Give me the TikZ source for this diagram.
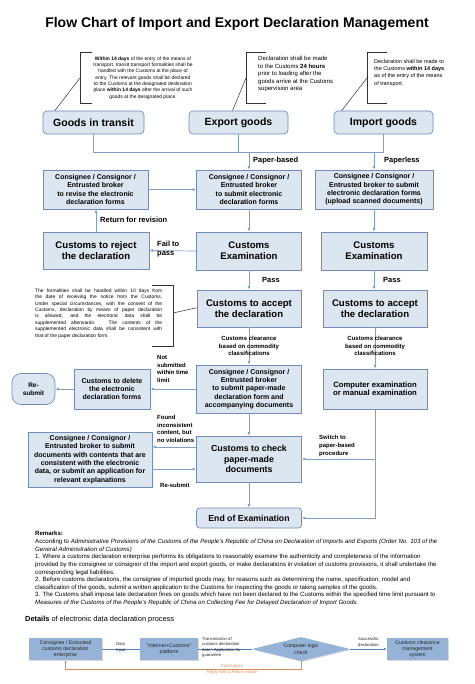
\documentclass[tikz,border=0pt]{standalone}
\usepackage{fontspec}
\setmainfont{Liberation Sans}
\usetikzlibrary{arrows.meta,shapes.geometric,shadows,calc}
\newcommand\fsz[2]{\fontsize{#1}{#2}\selectfont}
\definecolor{bfill}{RGB}{220,230,241}
\definecolor{bdraw}{RGB}{112,142,182}
\definecolor{aline}{RGB}{125,160,205}
\definecolor{dfill}{RGB}{149,179,215}
\definecolor{dline}{RGB}{79,129,189}
\definecolor{oline}{RGB}{226,140,80}
\begin{document}
\begin{tikzpicture}[x=1pt,y=-1pt,
  box/.style={draw=bdraw,fill=bfill,line width=0.7pt,align=center,inner sep=1pt},
  goods/.style={box,rounded corners=4pt,font=\fsz{10.5}{12}\bfseries,minimum height=23pt,minimum width=100pt},
  bigb/.style={box,font=\fsz{9.6}{10.7}\bfseries},
  smallb/.style={box,font=\fsz{7}{8.3}\bfseries},
  arr/.style={draw=aline,line width=0.7pt,-{Latex[length=3.5pt,width=3pt]}},
  ln/.style={draw=aline,line width=0.7pt},
  lab/.style={font=\fsz{7.5}{8.5}\bfseries,inner sep=0pt,align=left},
  slab/.style={font=\fsz{6}{7.6}\bfseries,inner sep=0pt,align=left},
  clab/.style={font=\fsz{6}{7.5}\bfseries,inner sep=0pt,align=center},
  call/.style={draw=black!80,line width=0.5pt},
  dbox/.style={fill=dfill,text=black!85,font=\fsz{5.2}{6.3},align=center,inner sep=1pt,
    drop shadow={opacity=0.3,shadow xshift=1pt,shadow yshift=-1pt}},
  dln/.style={draw=dline,line width=0.6pt},
  dlab/.style={font=\fsz{4.2}{5.6},inner sep=0pt,align=left,text=black!85}
]
\useasboundingbox (0,0) rectangle (474,684);
\fill[white] (0,0) rectangle (474,684);

% title
\node[font=\fsz{14}{16}\bfseries] (title) at (237,24) {Flow Chart of Import and Export Declaration Management};

% goods boxes
\node[goods,minimum width=101pt] (git) at (93.5,122.5) {Goods in transit};
\node[goods,minimum width=99pt] (exp) at (238.5,122.5) {Export goods};
\node[goods,minimum width=99pt] (imp) at (383.5,122.5) {Import goods};

% callouts
\node[font=\fsz{4.95}{6.3},align=center,inner sep=0pt] (c1) at (143,78) {\textbf{Within 14 days} of the entry of the means of\\transport, transit transport formalities shall be\\handled with the Customs at the place of\\entry. The relevant goods shall be declared\\to the Customs at the designated destination\\place \textbf{within 14 days} after the arrival of such\\goods at the designated place.};
\draw[call] (92,52) -- (80,52) -- (80,103) -- (92,103);
\coordinate (k1) at (80,78);
\draw[call] (k1) -- ($(git.north west)!0.12!(git.north east)$);

\node[font=\fsz{6}{7.5},align=left,inner sep=0pt,anchor=west] (c2) at (258,74.3) {Declaration shall be made\\to the Customs \textbf{24 hours}\\prior to loading after the\\goods arrive at the Customs\\supervision area};
\draw[call] (266,52) -- (246,52) -- (246,103) -- (266,103);
\coordinate (k2) at (246,78);
\draw[call] (k2) -- ($(exp.north west)!0.44!(exp.north east)$);

\node[font=\fsz{5.5}{7.4},align=left,inner sep=0pt,anchor=west] (c3) at (374,72.8) {Declaration shall be made to\\the Customs \textbf{within 14 days}\\as of the entry of the means\\of transport.};
\draw[call] (387,52) -- (367,52) -- (367,103) -- (387,103);
\coordinate (k3) at (367,78);
\draw[call] (k3) -- ($(imp.north west)!0.08!(imp.north east)$);

% horizontal connector
\coordinate (hy) at (0,152);
\draw[ln] (git.south) -- (git.south |- hy) -- (imp.south |- hy) -- (imp.south);
\draw[ln] (exp.south) -- (exp.south |- hy);

% second row
\node[smallb,minimum width=105pt,minimum height=39pt] (rev) at (95.5,189.5) {Consignee / Consignor /\\Entrusted broker\\to revise the electronic\\declaration forms};
\node[smallb,minimum width=105pt,minimum height=39pt] (expc) at (249,189.5) {Consignee / Consignor /\\Entrusted broker\\to submit electronic\\declaration forms};
\node[smallb,minimum width=118pt,minimum height=39pt] (impc) at (374,189.5) {Consignee / Consignor /\\Entrusted broker to submit\\electronic declaration forms\\(upload scanned documents)};
\draw[arr] (expc.north |- hy) -- (expc.north);
\draw[arr] (impc.north |- hy) -- (impc.north);
\node[lab,anchor=west] (lpb) at (253,161) {Paper-based};
\node[lab,anchor=west] (lpl) at (384,161) {Paperless};
\draw[arr] (rev.east) -- (expc.west);

% third row
\node[bigb,minimum width=106pt,minimum height=37pt] (rej) at (96,250.5) {Customs to reject\\the declaration};
\node[bigb,minimum width=105pt,minimum height=38pt] (expx) at (249,251) {Customs\\Examination};
\node[bigb,minimum width=106pt,minimum height=38pt] (impx) at (374,251) {Customs\\Examination};
\draw[arr] (expc.south) -- (expx.north);
\draw[arr] (impc.south) -- (impx.north);
\draw[arr] (expx.west) -- (rej.east);
\node[lab,anchor=west] (lfail) at (157,249) {Fail to\\pass};
\draw[arr] (rej.north) -- (rej.north |- rev.south);
\node[lab,anchor=west] (lret) at (100,220) {Return for revision};

% fourth row
\node[bigb,minimum width=104pt,minimum height=37pt] (expa) at (249,308.5) {Customs to accept\\the declaration};
\node[bigb,minimum width=104pt,minimum height=37pt] (impa) at (375,308.5) {Customs to accept\\the declaration};
\draw[arr] (expx.south) -- (expx.south |- expa.north);
\draw[arr] (impx.south) -- (impx.south |- impa.north);
\node[lab,anchor=west] (lp1) at (262,280) {Pass};
\node[lab,anchor=west] (lp2) at (383,280) {Pass};

% callout 4
\node[font=\fsz{4.9}{6.4},align=left,inner sep=0pt,anchor=west] (c4) at (35,313.5) {%
\makebox[127pt][s]{The formalities shall be handled within 10 days from}\\
\makebox[127pt][s]{the date of receiving the notice from the Customs.}\\
\makebox[127pt][s]{Under special circumstances, with the consent of the}\\
\makebox[127pt][s]{Customs, declaration by means of paper declaration}\\
\makebox[127pt][s]{is allowed, and the electronic data shall be}\\
\makebox[127pt][s]{supplemented afterwards. The contents of the}\\
\makebox[127pt][s]{supplemented electronic data shall be consistent with}\\
that of the paper declaration form.};
\draw[call] (152,285) -- (173,285) -- (173,346) -- (152,346);
\coordinate (k4) at (173,313);
\draw[call] (k4) -- ($(expa.north west)!0.48!(expa.south west)$);

% fifth row
\node[smallb,minimum width=105pt,minimum height=48pt] (ppc) at (249,389) {Consignee / Consignor /\\Entrusted broker\\to submit paper-made\\declaration form and\\accompanying documents};
\node[box,font=\fsz{7.7}{8.4}\bfseries,minimum width=104pt,minimum height=40pt] (comp) at (375,389) {Computer examination\\or manual examination};
\node[smallb,minimum width=76pt,minimum height=40pt] (del) at (112,389) {Customs to delete\\the electronic\\declaration forms};
\node[box,rounded corners=9pt,font=\fsz{6.5}{8}\bfseries,minimum width=43pt,minimum height=31pt] (resub) at (33.5,389) {Re-\\submit};
\draw[arr] (expa.south) -- (expa.south |- ppc.north);
\node[clab] (lcc1) at (249,346) {Customs clearance\\based on commodity\\classifications};
\draw[arr] (impa.south) -- (impa.south |- comp.north);
\node[clab] (lcc2) at (375,346) {Customs clearance\\based on commodity\\classifications};
\draw[arr] (ppc.west) -- (del.east);
\node[slab,anchor=west] (lns) at (157,369) {Not\\submitted\\within time\\limit};
\draw[arr] (del.west) -- (resub.east);

% sixth row
\node[bigb,font=\fsz{8.8}{10.2}\bfseries,minimum width=105pt,minimum height=46pt] (chk) at (249,459) {Customs to check\\paper-made\\documents};
\node[smallb,minimum width=124pt,minimum height=55pt] (big) at (90,459.5) {Consignee / Consignor /\\Entrusted broker to submit\\documents with contents that are\\consistent with the electronic\\data, or submit an application for\\relevant explanations};
\draw[arr] (ppc.south) -- (ppc.south |- chk.north);
\coordinate (r1) at (0,447);
\coordinate (r2) at (0,469);
\draw[arr] (chk.west |- r1) -- (big.east |- r1);
\draw[arr] (big.east |- r2) -- (chk.west |- r2);
\node[slab,anchor=west] (lfi) at (157,429) {Found\\inconsistent\\content, but\\no violations};
\node[slab,anchor=west] (lrs) at (160,485) {Re-submit};
\coordinate (sw) at (comp.south |- chk.east);
\draw[arr] (comp.south) -- (sw) -- (chk.east);
\node[slab,anchor=west] (lsw) at (319,446) {Switch to\\paper-based\\procedure};

% end
\node[box,rounded corners=3pt,font=\fsz{8.7}{10}\bfseries,minimum width=105pt,minimum height=20pt] (endx) at (249,518) {End of Examination};
\draw[arr] (chk.south) -- (endx.north);
\draw[arr] (sw) -- (sw |- endx.east) -- (endx.east);

% remarks
\node[font=\fsz{6.1}{7}\bfseries,anchor=west,inner sep=0pt] (rmk) at (35,533.5) {Remarks:};
\node[font=\fsz{6.1}{7.6},align=left,anchor=west,inner sep=0pt] (rtx) at (35,572.5) {%
According to \textit{Administrative Provisions of the Customs of the People's Republic of China on Declaration of Imports and Exports (Order No. 103 of the}\\
\textit{General Administration of Customs)}\\
1. Where a customs declaration enterprise performs its obligations to reasonably examine the authenticity and completeness of the information\\
provided by the consignee or consignor of the import and export goods, or make declarations in violation of customs provisions, it shall undertake the\\
corresponding legal liabilities.\\
2. Before customs declarations, the consignee of imported goods may, for reasons such as determining the name, specification, model and\\
classification of the goods, submit a written application to the Customs for inspecting the goods or taking samples of the goods.\\
3. The Customs shall impose late declaration fines on goods which have not been declared to the Customs within the specified time limit pursuant to\\
\textit{Measures of the Customs of the People's Republic of China on Collecting Fee for Delayed Declaration of Import Goods.}};

% details
\node[font=\fsz{7.4}{8.5},anchor=west,inner sep=0pt] (dtl) at (25,619.5) {\textbf{Details} of electronic data declaration process};
\node[dbox,minimum width=73pt,minimum height=22pt] (bA) at (65.5,649) {Consignee / Entrusted\\customs declaration\\enterprise};
\node[dbox,minimum width=58pt,minimum height=22pt] (bB) at (169,649) {"Internet+Customs"\\platform};
\node[dbox,diamond,aspect=4,inner sep=0pt,minimum width=98pt,minimum height=24pt] (dd) at (301,649) {Computer logic\\check};
\node[dbox,minimum width=61pt,minimum height=22pt] (bD) at (417.5,649) {Customs clearance\\management\\system};
\draw[dln] (bA.east) -- (bB.west);
\draw[dln] (bB.east) -- (dd.west);
\draw[dln,-{Latex[length=3pt,width=2.6pt]}] (dd.east) -- (bD.west);
\node[dlab,anchor=west] (ldi) at (116,647.5) {Data\\Input};
\node[dlab,anchor=west] (ltr) at (202,647.5) {Transmission of\\customs declaration\\data \textbackslash{} Application for\\guarantee};
\node[dlab,anchor=west] (lsu) at (358,642) {Successful\\declaration};
\coordinate (oy) at (0,669);
\draw[draw=oline,line width=0.6pt,-{Latex[length=3pt,width=2.6pt]}] (dd.south) -- (dd.south |- oy) -- (bA.south |- oy) -- (bA.south);
\node[dlab,align=center,text=oline,font=\fsz{4.3}{6}] (lfp) at (232,669) {Fail to pass\\Reply with a Return notice};
\end{tikzpicture}
\end{document}
